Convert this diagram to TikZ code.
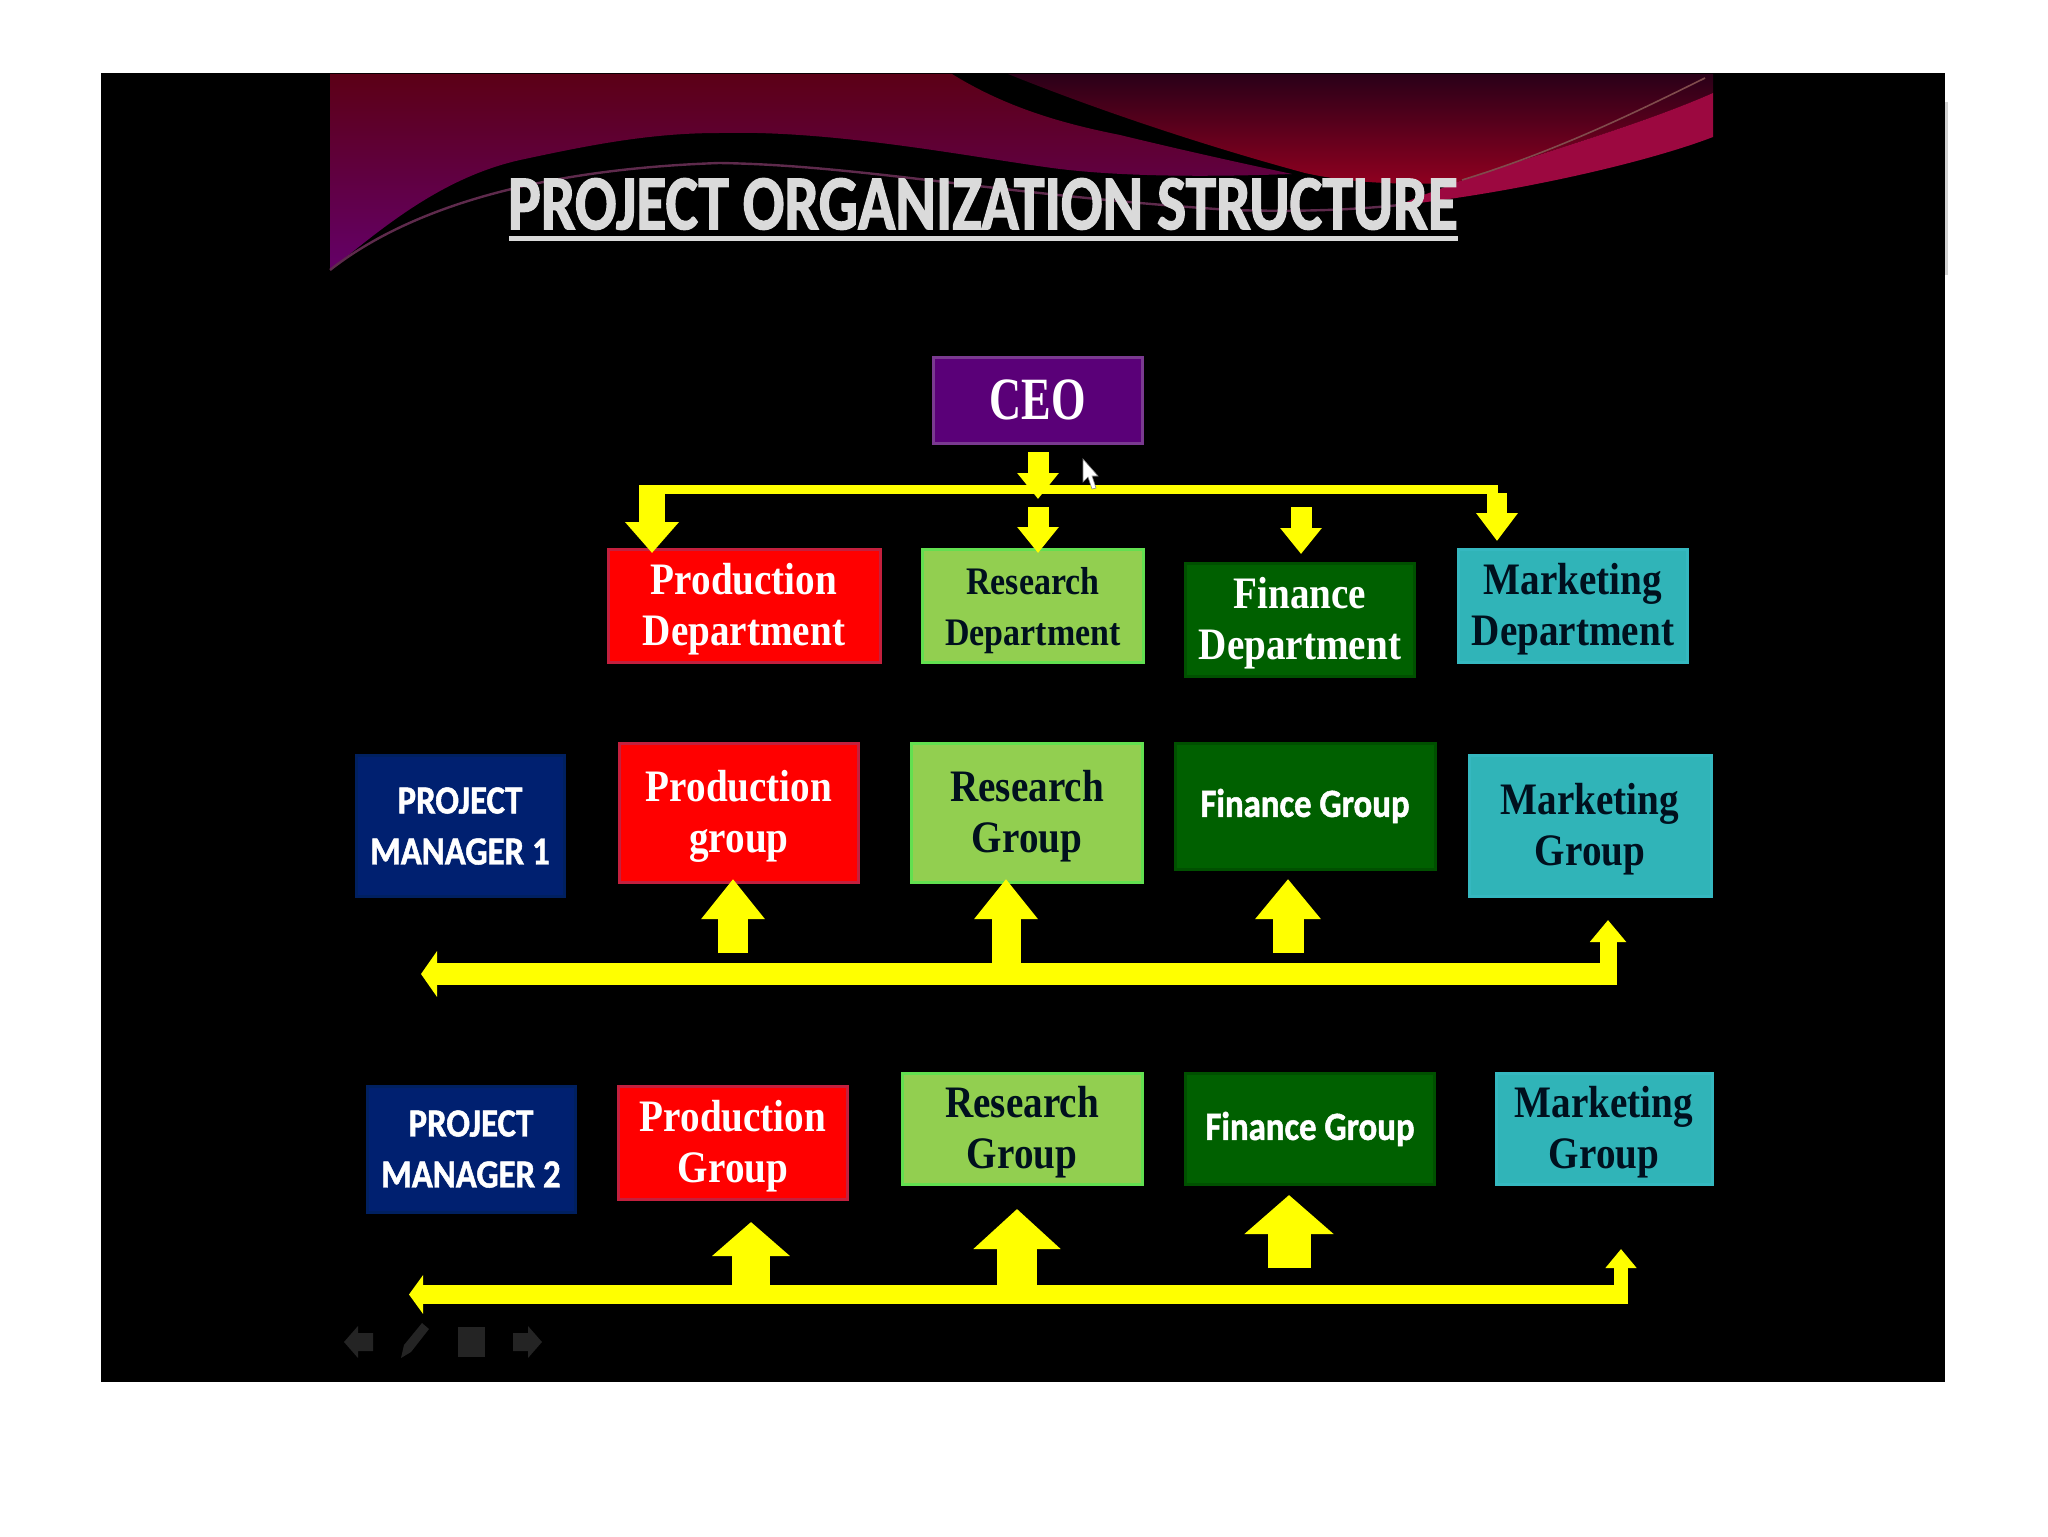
\documentclass[tikz,border=0pt]{standalone}
\usepackage{fontspec}
\usetikzlibrary{arrows.meta}
\newfontfamily\serifb[FakeStretch=0.87]{Liberation Serif}
\newfontfamily\serifc[FakeStretch=0.74]{Liberation Serif}
\newfontfamily\sansb[FakeStretch=0.87,BoldFeatures={FakeBold=1.2}]{Carlito}
\newfontfamily\titlef[FakeStretch=0.79,BoldFeatures={FakeBold=1.5}]{Carlito}
\newcommand\dnbig{\rule{0pt}{19pt}}
\newcommand\dnsmall{\rule{0pt}{18.5pt}}
\definecolor{cRed}{HTML}{FF0000}\definecolor{cRedB}{HTML}{C4203E}
\definecolor{cLime}{HTML}{92CF50}\definecolor{cLimeB}{HTML}{62E050}
\definecolor{cDark}{HTML}{006000}\definecolor{cDarkB}{HTML}{005000}
\definecolor{cTeal}{HTML}{30B4B8}\definecolor{cTealB}{HTML}{35B8C0}
\definecolor{cNavy}{HTML}{002070}\definecolor{cNavyB}{HTML}{002060}
\definecolor{cPurp}{HTML}{5A0078}\definecolor{cPurpB}{HTML}{7A3A90}
\definecolor{cYel}{HTML}{FFFF00}
\definecolor{cNav}{HTML}{242424}
\definecolor{ink}{HTML}{00101E}
\definecolor{wineTop}{HTML}{5C0016}\definecolor{wineMid}{HTML}{5A0030}\definecolor{wineBot}{HTML}{640068}
\definecolor{darkTop}{HTML}{2A0018}\definecolor{darkBot}{HTML}{900020}
\definecolor{pinkBand}{HTML}{9C0840}
\definecolor{swoosh}{HTML}{5E2A4C}
\definecolor{titleGray}{HTML}{DADADA}
\tikzset{
  box/.style 2 args={draw,line width=1.5pt,inner sep=0pt,outer sep=0pt,align=center,
     minimum width={(#1-3)*0.5pt},minimum height={(#2-3)*0.5pt}},
  redbox/.style={fill=cRed,draw=cRedB,text=white},
  limebox/.style={fill=cLime,draw=cLimeB,text=ink},
  darkbox/.style={fill=cDark,draw=cDarkB,text=white},
  tealbox/.style={fill=cTeal,draw=cTealB,text=ink},
  navybox/.style={fill=cNavy,draw=cNavyB,text=white},
  serifbig/.style={font=\serifb\bfseries\fontsize{22.5}{25.5}\selectfont},
  serifsmall/.style={font=\serifb\bfseries\fontsize{19.5}{25.5}\selectfont},
  sanstext/.style={font=\sansb\bfseries\fontsize{20}{25.5}\selectfont},
  blockarrow/.style n args={3}{draw=cYel,line width=#1*0.5pt,line cap=butt,
     -{Triangle[length=#2*0.5pt,width=#3*0.5pt,fill=cYel]}},
  barline/.style={draw=cYel,line width=#1*0.5pt,line cap=butt},
  navicon/.style={fill=cNav,draw=none}
}
\begin{document}
\begin{tikzpicture}[x=0.5pt,y=-0.5pt]
\useasboundingbox (0,0) rectangle (2048,1536);
\fill[white] (0,0) rectangle (2048,1536);
\fill[black] (101,73) rectangle (1945,1382);
\fill[gray!35] (1945,102) rectangle (1948,275);
% banner
\path[shade,top color=wineTop,middle color=wineMid,bottom color=wineBot]
  (330,74) -- (952,74) .. controls (1010,110) and (1070,125) .. (1120,135)
  .. controls (1190,152) and (1250,165) .. (1292,174)
  .. controls (1180,178) and (1100,175) .. (1045,167)
  .. controls (960,155) and (830,130) .. (719,133)
  .. controls (650,133) and (590,145) .. (520,160)
  .. controls (440,178) and (380,230) .. (330,270) -- cycle;
\path[shade,top color=darkTop,bottom color=darkBot]
  (1008,74) -- (1713,74) -- (1713,93) .. controls (1640,125) and (1550,150) .. (1454,183)
  .. controls (1400,185) and (1350,183) .. (1305,173)
  .. controls (1220,150) and (1110,115) .. (1008,74) -- cycle;
\fill[pinkBand] (1713,93) .. controls (1640,125) and (1550,150) .. (1454,183)
  .. controls (1440,190) and (1420,195) .. (1400,205)
  .. controls (1500,195) and (1640,165) .. (1713,137) -- cycle;
\draw[swoosh,line width=1.2pt] (330,270) .. controls (400,215) and (520,170) .. (719,163)
  .. controls (860,165) and (1000,195) .. (1231,210) .. controls (1300,212) and (1350,210) .. (1400,205);
\draw[red!40!white!50!black,line width=.8pt] (1705,78) .. controls (1640,110) and (1560,150) .. (1462,180);
% title
\node[anchor=center,inner sep=0pt,text=titleGray,font=\titlef\bfseries\fontsize{39}{39}\selectfont] (title) at (983,204) {PROJECT ORGANIZATION STRUCTURE};
\fill[titleGray] (509,236) rectangle (1458,241);
% CEO
\node[box={212}{89},fill=cPurp,draw=cPurpB,text=white,font=\serifc\bfseries\fontsize{30}{30}\selectfont] (ceo) at (1038,400) {CEO};
% row 1
\node[box={275}{116},redbox,serifbig] (d1) at (744,606) {\dnbig Production\\Department};
\node[box={224}{116},limebox,serifsmall] (d2) at (1033,606) {\dnsmall Research\\Department};
\node[box={232}{116},darkbox,serifbig] (d3) at (1300,620) {\dnbig Finance\\Department};
\node[box={232}{116},tealbox,serifbig] (d4) at (1573,606) {\dnbig Marketing\\Department};
% row 2
\node[box={211}{144},navybox,sanstext] (pm1) at (460,826) {PROJECT\\MANAGER 1};
\node[box={242}{142},redbox,serifbig] (g1) at (739,813) {\dnbig Production\\group};
\node[box={234}{142},limebox,serifbig] (g2) at (1027,813) {\dnbig Research\\Group};
\node[box={263}{129},darkbox,sanstext] (g3) at (1305,806) {Finance Group};
\node[box={245}{144},tealbox,serifbig] (g4) at (1590,826) {\dnbig Marketing\\Group};
% row 3
\node[box={211}{129},navybox,sanstext] (pm2) at (471,1149) {PROJECT\\MANAGER 2};
\node[box={232}{116},redbox,serifbig] (h1) at (733,1143) {\dnbig Production\\Group};
\node[box={243}{114},limebox,serifbig] (h2) at (1022,1129) {\dnbig Research\\Group};
\node[box={252}{114},darkbox,sanstext] (h3) at (1310,1129) {Finance Group};
\node[box={219}{114},tealbox,serifbig] (h4) at (1604,1129) {\dnbig Marketing\\Group};
% coordinates for connector ends
\coordinate (ceoOut) at (1038,452);  \coordinate (ceoTip) at (1038,499);
\coordinate (busL) at (639,489);     \coordinate (busR) at (1498,489);
\coordinate (a1s) at (652,485);      \coordinate (a1e) at (652,553);
\coordinate (a2s) at (1038,507);     \coordinate (a2e) at (1038,553);
\coordinate (a3s) at (1301,507);     \coordinate (a3e) at (1301,554);
\coordinate (a4s) at (1497,493);     \coordinate (a4e) at (1497,541);
\draw[blockarrow={21}{26}{40}] (ceoOut) -- (ceoTip);
\draw[barline=9] (busL) -- (busR);
\draw[blockarrow={26}{31}{52}] (a1s) -- (a1e);
\draw[blockarrow={21}{26}{40}] (a2s) -- (a2e);
\draw[blockarrow={21}{26}{40}] (a3s) -- (a3e);
\draw[blockarrow={20}{28}{40}] (a4s) -- (a4e);
% row 2 arrows
\coordinate (b1s) at (733,953);  \coordinate (b1e) at (733,879);
\coordinate (b2s) at (1006,965); \coordinate (b2e) at (1006,879);
\coordinate (b3s) at (1288,953); \coordinate (b3e) at (1288,879);
\coordinate (b4s) at (1608,985); \coordinate (b4e) at (1608,920);
\coordinate (barAr) at (1617,974); \coordinate (barAl) at (421,974);
\draw[blockarrow={30}{40}{61}] (b1s) -- (b1e);
\draw[blockarrow={29}{40}{61}] (b2s) -- (b2e);
\draw[blockarrow={31}{40}{63}] (b3s) -- (b3e);
\draw[blockarrow={22}{16}{45}] (barAr) -- (barAl);
\draw[blockarrow={17}{22}{35}] (b4s) -- (b4e);
% row 3 arrows
\coordinate (c1s) at (751,1286);  \coordinate (c1e) at (751,1222);
\coordinate (c2s) at (1017,1286); \coordinate (c2e) at (1017,1209);
\coordinate (c3s) at (1289,1268); \coordinate (c3e) at (1289,1195);
\coordinate (c4s) at (1621,1304); \coordinate (c4e) at (1621,1249);
\coordinate (barBr) at (1628,1294.5); \coordinate (barBl) at (409,1294.5);
\draw[blockarrow={38}{34}{76}] (c1s) -- (c1e);
\draw[blockarrow={40}{40}{85}] (c2s) -- (c2e);
\draw[blockarrow={43}{39}{87}] (c3s) -- (c3e);
\draw[blockarrow={19}{14}{38}] (barBr) -- (barBl);
\draw[blockarrow={14}{19}{30}] (c4s) -- (c4e);
% mouse pointer
\fill[white,draw=black!50,line width=.3pt] (1083,459) -- (1083,482) -- (1088,477) -- (1092,489) -- (1096,488) -- (1092,476) -- (1098,476) -- cycle;
% slide nav icons
\fill[navicon] (344,1342) -- (358,1326) -- (358,1333) -- (373,1333) -- (373,1351) -- (358,1351) -- (358,1358) -- cycle;
\fill[navicon] (401,1358) -- (404,1345) -- (422,1323) -- (429,1329) -- (411,1352) -- cycle;
\fill[navicon] (458,1327) rectangle (485,1357);
\fill[navicon] (542,1342) -- (528,1326) -- (528,1333) -- (513,1333) -- (513,1351) -- (528,1351) -- (528,1358) -- cycle;
\end{tikzpicture}
\end{document}
